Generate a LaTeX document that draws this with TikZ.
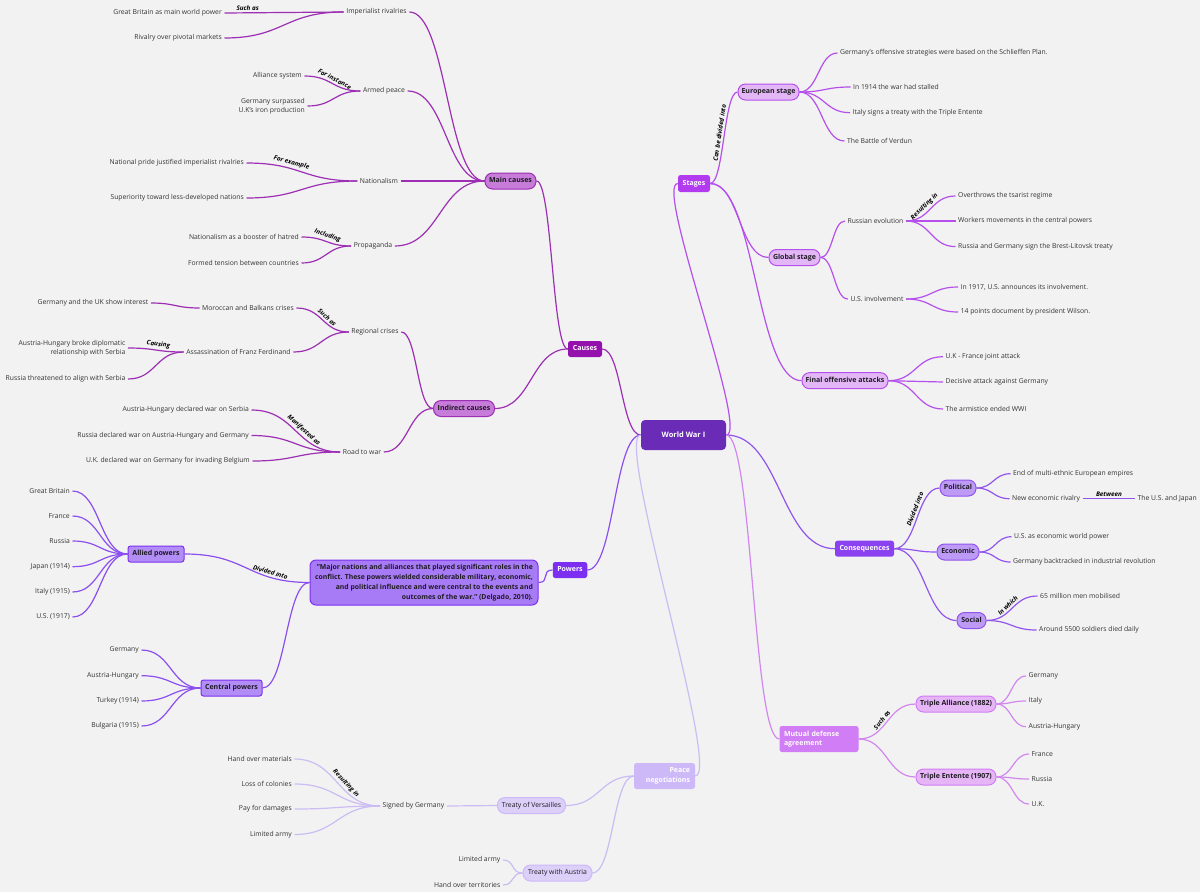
\documentclass[tikz,border=0pt]{standalone}
\usepackage{fontspec}
\setmainfont{Open Sans}
\usetikzlibrary{calc}
\definecolor{bg}{HTML}{F2F2F2}
\definecolor{leafc}{HTML}{333333}
\definecolor{boxtext}{HTML}{1E1A22}
\definecolor{wwic}{HTML}{6A2CB6}
\definecolor{causesc}{HTML}{9511AE}
\definecolor{causesl}{HTML}{9C2FB3}
\definecolor{causes2}{HTML}{C67CD8}
\definecolor{powc}{HTML}{7C2FF0}
\definecolor{powl}{HTML}{8B4FEF}
\definecolor{quotec}{HTML}{A87BF6}
\definecolor{allc}{HTML}{B38DF6}
\definecolor{peacec}{HTML}{CDB9F8}
\definecolor{peacel}{HTML}{CBBDF3}
\definecolor{treatyc}{HTML}{DCCFF8}
\definecolor{stagec}{HTML}{B23BEF}
\definecolor{stagel}{HTML}{B550EC}
\definecolor{euroc}{HTML}{E3B7F6}
\definecolor{consc}{HTML}{8A42F0}
\definecolor{consl}{HTML}{9155EC}
\definecolor{polc}{HTML}{BD9AF6}
\definecolor{mutc}{HTML}{D17DF5}
\definecolor{mutl}{HTML}{D287F0}
\definecolor{tac}{HTML}{E6B5F6}
\tikzset{
 base/.style={font=\fontsize{6.8}{8.6}\selectfont, text=leafc, inner sep=2.5pt},
 leafl/.style={base, anchor=east, align=right},
 leafr/.style={base, anchor=west, align=left},
 mid/.style={base},
 bx/.style={font=\bfseries\fontsize{7}{9}\selectfont, inner xsep=1pt, inner ysep=0pt, text height=5.2pt, text depth=1.6pt},
 l1/.style={bx, text=white, rounded corners=2.5pt},
 l1m/.style={font=\bfseries\fontsize{7}{9.5}\selectfont, text=white, rounded corners=2.5pt, inner xsep=0pt, inner ysep=2pt},
 pill/.style={bx, text=boxtext, rounded corners=7.5pt, line width=1pt, minimum height=16},
 pillr/.style={pill, font=\fontsize{6.8}{9}\selectfont},
 rbox/.style={bx, text=boxtext, rounded corners=2.5pt, line width=1pt, minimum height=16},
 lab/.style={font=\bfseries\itshape\fontsize{6.3}{7}\selectfont, text=black, inner sep=2pt, sloped, above},
 cl/.style={to path={let \p1=(\tikztostart), \p2=(\tikztotarget), \n1={max(abs(\x2-\x1)/2,12)} in .. controls (\x1-\n1*1pt,\y1) and (\x2+\n1*1pt,\y2) .. (\tikztotarget) \tikztonodes}},
 cr/.style={to path={let \p1=(\tikztostart), \p2=(\tikztotarget), \n1={max(abs(\x2-\x1)/2,12)} in .. controls (\x1+\n1*1pt,\y1) and (\x2-\n1*1pt,\y2) .. (\tikztotarget) \tikztonodes}},
 ln/.style={draw=#1, line width=1.2pt},
}
\begin{document}
\begin{tikzpicture}[x=1pt,y=-1pt]
\fill[bg] (0,0) rectangle (1200,892);
\useasboundingbox (0,0) rectangle (1200,892);

% ---------- central
\node[font=\bfseries\fontsize{7.5}{9}\selectfont, text=white, fill=wwic, rounded corners=4pt, minimum width=85, minimum height=30, inner sep=0pt] (wwi) at (683.5,435) {World War I};

% ---------- CAUSES
\node[l1, fill=causesc, minimum width=34, minimum height=16] (causes) at (585,349) {Causes};
\node[pill, fill=causes2, draw=causesl, minimum width=51] (main) at (510.5,181) {Main causes};
\node[pill, fill=causes2, draw=causesl, minimum width=61] (indirect) at (464,408.5) {Indirect causes};

\node[mid] (imp) at (376.5,12) {Imperialist rivalries};
\node[leafl] (gb) at (224.5,13) {Great Britain as main world power};
\node[leafl] (riv) at (224.5,38) {Rivalry over pivotal markets};
\node[mid] (armed) at (384,91) {Armed peace};
\node[leafl] (alli) at (304.5,76) {Alliance system};
\node[leafl] (gsur) at (307.5,106) {Germany surpassed\\U.K's iron production};
\node[mid] (natl) at (379,181) {Nationalism};
\node[leafl] (natp) at (246.5,163) {National pride justified imperialist rivalries};
\node[leafl] (sup) at (246.5,198) {Superiority toward less-developed nations};
\node[mid] (prop) at (373,246) {Propaganda};
\node[leafl] (boost) at (301.5,237) {Nationalism as a booster of hatred};
\node[leafl] (tens) at (301.5,263) {Formed tension between countries};

\node[mid] (reg) at (375,332) {Regional crises};
\node[mid] (moro) at (248,308) {Moroccan and Balkans crises};
\node[leafl] (gu) at (151,303) {Germany and the UK show interest};
\node[mid] (assa) at (238.5,352) {Assassination of Franz Ferdinand};
\node[leafl] (ahb) at (128,348) {Austria-Hungary broke diplomatic\\relationship with Serbia};
\node[leafl] (rth) at (128,379) {Russia threatened to align with Serbia};
\node[mid] (road) at (362,452) {Road to war};
\node[leafl] (ahd) at (251.5,410) {Austria-Hungary declared war on Serbia};
\node[leafl] (rdw) at (251.5,435.5) {Russia declared war on Austria-Hungary and Germany};
\node[leafl] (ukd) at (252.5,461) {U.K. declared war on Germany for invading Belgium};

\draw[ln=causesl] (wwi.west) to[cl] (causes.east);
\draw[ln=causesl] (causes.west) to[cl] (main.east);
\draw[ln=causesl] (causes.west) to[cl] (indirect.east);
\foreach \t in {imp,armed,natl,prop} \draw[ln=causesl] (main.west) to[cl] (\t.east);
\draw[ln=causesl] (imp.west) to[cl] node[lab, pos=0.85] (la1) {Such as} (gb.east);
\draw[ln=causesl] (imp.west) to[cl] (riv.east);
\draw[ln=causesl] (armed.west) to[cl] node[lab, pos=0.5] (la2) {For instance} (alli.east);
\draw[ln=causesl] (armed.west) to[cl] (gsur.east);
\draw[ln=causesl] (natl.west) to[cl] node[lab, pos=0.64] (la3) {For example} (natp.east);
\draw[ln=causesl] (natl.west) to[cl] (sup.east);
\draw[ln=causesl] (prop.west) to[cl] node[lab, pos=0.52] (la4) {Including} (boost.east);
\draw[ln=causesl] (prop.west) to[cl] (tens.east);
\foreach \t in {reg,road} \draw[ln=causesl] (indirect.west) to[cl] (\t.east);
\draw[ln=causesl] (reg.west) to[cl] node[lab, pos=0.47] (la5) {Such as} (moro.east);
\draw[ln=causesl] (reg.west) to[cl] (assa.east);
\draw[ln=causesl] (moro.west) to[cl] (gu.east);
\draw[ln=causesl] (assa.west) to[cl] node[lab, pos=0.46] (la6) {Causing} (ahb.east);
\draw[ln=causesl] (assa.west) to[cl] (rth.east);
\draw[ln=causesl] (road.west) to[cl] node[lab, pos=0.44] (la7) {Manifested as} (ahd.east);
\foreach \t in {rdw,ukd} \draw[ln=causesl] (road.west) to[cl] (\t.east);

% ---------- POWERS
\node[l1, fill=powc, minimum width=34.5, minimum height=16] (pow) at (570,570) {Powers};
\node[font=\bfseries\fontsize{6.85}{9.8}\selectfont, text=boxtext, align=right, fill=quotec, draw=powc, line width=1pt, rounded corners=6pt, minimum width=228, minimum height=45, inner sep=2pt] (quote) at (424,582.5) {"Major nations and alliances that played significant roles in the\\conflict. These powers wielded considerable military, economic,\\and political influence and were central to the events and\\outcomes of the war." (Delgado, 2010).};
\node[rbox, fill=allc, draw=powc, minimum width=56] (allied) at (156,554) {Allied powers};
\node[rbox, fill=allc, draw=powc, minimum width=61] (central) at (231.5,688) {Central powers};
\node[leafl] (a1) at (72.5,491) {Great Britain};
\node[leafl] (a2) at (72.5,516) {France};
\node[leafl] (a3) at (72.5,541) {Russia};
\node[leafl] (a4) at (72.5,566.7) {Japan (1914)};
\node[leafl] (a5) at (72.5,592) {Italy (1915)};
\node[leafl] (a6) at (72.5,617) {U.S. (1917)};
\node[leafl] (c1) at (141.5,650) {Germany};
\node[leafl] (c2) at (141.5,675.7) {Austria-Hungary};
\node[leafl] (c3) at (141.5,701) {Turkey (1914)};
\node[leafl] (c4) at (141.5,726) {Bulgaria (1915)};
\draw[ln=powl] (wwi.west) to[cl] (pow.east);
\draw[ln=powl] (pow.west) to[cl] (quote.east);
\draw[ln=powl] (quote.west) to[cl] node[lab, pos=0.28] (la8) {Divided into} (allied.east);
\draw[ln=powl] (quote.west) to[cl] (central.east);
\foreach \t in {a1,a2,a3,a4,a5,a6} \draw[ln=powl] (allied.west) to[cl] (\t.east);
\foreach \t in {c1,c2,c3,c4} \draw[ln=powl] (central.west) to[cl] (\t.east);

% ---------- PEACE
\node[l1m, fill=peacec, minimum width=61, minimum height=26, text width=51, align=right] (peace) at (664.5,776) {Peace\\negotiations};
\node[pillr, fill=treatyc, draw=peacec, minimum width=68] (vers) at (531.5,805.5) {Treaty of Versailles};
\node[mid] (signed) at (413.5,806) {Signed by Germany};
\node[leafl] (p1) at (294.5,759) {Hand over materials};
\node[leafl] (p2) at (294.5,784) {Loss of colonies};
\node[leafl] (p3) at (294.5,809) {Pay for damages};
\node[leafl] (p4) at (294.5,834.5) {Limited army};
\node[pillr, fill=treatyc, draw=peacec, minimum width=69] (taus) at (557.5,873) {Treaty with Austria};
\node[leafl] (q1) at (503,860) {Limited army};
\node[leafl] (q2) at (503,885) {Hand over territories};
\draw[ln=peacel] (wwi.west) to[cl] (peace.east);
\foreach \t in {vers,taus} \draw[ln=peacel] (peace.west) to[cl] (\t.east);
\draw[ln=peacel] (vers.west) to[cl] (signed.east);
\draw[ln=peacel] (signed.west) to[cl] node[lab, pos=0.43] (la9) {Resulting in} (p1.east);
\foreach \t in {p2,p3,p4} \draw[ln=peacel] (signed.west) to[cl] (\t.east);
\foreach \t in {q1,q2} \draw[ln=peacel] (taus.west) to[cl] (\t.east);

% ---------- STAGES
\node[l1, fill=stagec, minimum width=32, minimum height=17] (stages) at (694,183.5) {Stages};
\node[pill, fill=euroc, draw=stagel, minimum width=61] (euro) at (768.5,92) {European stage};
\node[pill, fill=euroc, draw=stagel, minimum width=51] (glob) at (794.5,257.5) {Global stage};
\node[pill, fill=euroc, draw=stagel, minimum width=86] (final) at (845,380.7) {Final offensive attacks};
\node[leafr] (e1) at (837.5,53) {Germany's offensive strategies were based on the Schlieffen Plan.};
\node[leafr] (e2) at (850.5,87) {In 1914 the war had stalled};
\node[leafr] (e3) at (850,112.7) {Italy signs a treaty with the Triple Entente};
\node[leafr] (e4) at (844.5,141) {The Battle of Verdun};
\node[mid] (russ) at (875.5,221) {Russian evolution};
\node[mid] (usinv) at (877,299) {U.S. involvement};
\node[leafr] (r1) at (955.5,196) {Overthrows the tsarist regime};
\node[leafr] (r2) at (955.5,221) {Workers movements in the central powers};
\node[leafr] (r3) at (955.5,246.6) {Russia and Germany sign the Brest-Litovsk treaty};
\node[leafr] (u1) at (958,287) {In 1917, U.S. announces its involvement.};
\node[leafr] (u2) at (958,312) {14 points document by president Wilson.};
\node[leafr] (f1) at (943,356.7) {U.K - France joint attack};
\node[leafr] (f2) at (943,382) {Decisive attack against Germany};
\node[leafr] (f3) at (943,409) {The armistice ended WWI};
\draw[ln=stagel] (wwi.east) to[cr] (stages.west);
\draw[ln=stagel] (stages.east) to[cr] node[lab, pos=0.53] (la10) {Can be divided into} (euro.west);
\foreach \t in {glob,final} \draw[ln=stagel] (stages.east) to[cr] (\t.west);
\foreach \t in {e1,e2,e3,e4} \draw[ln=stagel] (euro.east) to[cr] (\t.west);
\foreach \t in {russ,usinv} \draw[ln=stagel] (glob.east) to[cr] (\t.west);
\draw[ln=stagel] (russ.east) to[cr] node[lab, pos=0.44] (la11) {Resulting in} (r1.west);
\foreach \t in {r2,r3} \draw[ln=stagel] (russ.east) to[cr] (\t.west);
\foreach \t in {u1,u2} \draw[ln=stagel] (usinv.east) to[cr] (\t.west);
\foreach \t in {f1,f2,f3} \draw[ln=stagel] (final.east) to[cr] (\t.west);

% ---------- CONSEQUENCES
\node[l1, fill=consc, minimum width=59, minimum height=16] (cons) at (864.5,548.7) {Consequences};
\node[pill, fill=polc, draw=consl, minimum width=36] (pol) at (958,488) {Political};
\node[pill, fill=polc, draw=consl, minimum width=42] (eco) at (958,552) {Economic};
\node[pill, fill=polc, draw=consl, minimum width=29] (soc) at (971.5,620.5) {Social};
\node[leafr] (o1) at (1010.5,473.7) {End of multi-ethnic European empires};
\node[leafr] (o2) at (1009.5,498.7) {New economic rivalry};
\node[leafr] (o3) at (1135,498.7) {The U.S. and Japan};
\node[leafr] (o4) at (1011.5,536.7) {U.S. as economic world power};
\node[leafr] (o5) at (1010.5,562) {Germany backtracked in industrial revolution};
\node[leafr] (o6) at (1037.5,596) {65 million men mobilised};
\node[leafr] (o7) at (1036.5,630) {Around 5500 soldiers died daily};
\draw[ln=consl] (wwi.east) to[cr] (cons.west);
\draw[ln=consl] (cons.east) to[cr] node[lab, pos=0.58] (la12) {Divided into} (pol.west);
\foreach \t in {eco,soc} \draw[ln=consl] (cons.east) to[cr] (\t.west);
\foreach \t in {o1,o2} \draw[ln=consl] (pol.east) to[cr] (\t.west);
\draw[ln=consl] (o2.east) -- node[lab, pos=0.5] (la13) {Between} (o3.west);
\foreach \t in {o4,o5} \draw[ln=consl] (eco.east) to[cr] (\t.west);
\draw[ln=consl] (soc.east) to[cr] node[lab, pos=0.48] (la14) {In which} (o6.west);
\draw[ln=consl] (soc.east) to[cr] (o7.west);

% ---------- MUTUAL DEFENSE
\node[l1m, fill=mutc, minimum width=79, minimum height=26, text width=70, align=left] (mut) at (819,739) {Mutual defense\\agreement};
\node[pill, fill=tac, draw=mutc, minimum width=80] (ta) at (956,704) {Triple Alliance (1882)};
\node[pill, fill=tac, draw=mutc, minimum width=80] (te) at (956,777) {Triple Entente (1907)};
\node[leafr] (t1) at (1026,676) {Germany};
\node[leafr] (t2) at (1026,701) {Italy};
\node[leafr] (t3) at (1026,726.7) {Austria-Hungary};
\node[leafr] (t4) at (1029,754) {France};
\node[leafr] (t5) at (1029,779) {Russia};
\node[leafr] (t6) at (1029,804) {U.K.};
\draw[ln=mutl] (wwi.east) to[cr] (mut.west);
\draw[ln=mutl] (mut.east) to[cr] node[lab, pos=0.47] (la15) {Such as} (ta.west);
\draw[ln=mutl] (mut.east) to[cr] (te.west);
\foreach \t in {t1,t2,t3} \draw[ln=mutl] (ta.east) to[cr] (\t.west);
\foreach \t in {t4,t5,t6} \draw[ln=mutl] (te.east) to[cr] (\t.west);
\end{tikzpicture}
\end{document}
